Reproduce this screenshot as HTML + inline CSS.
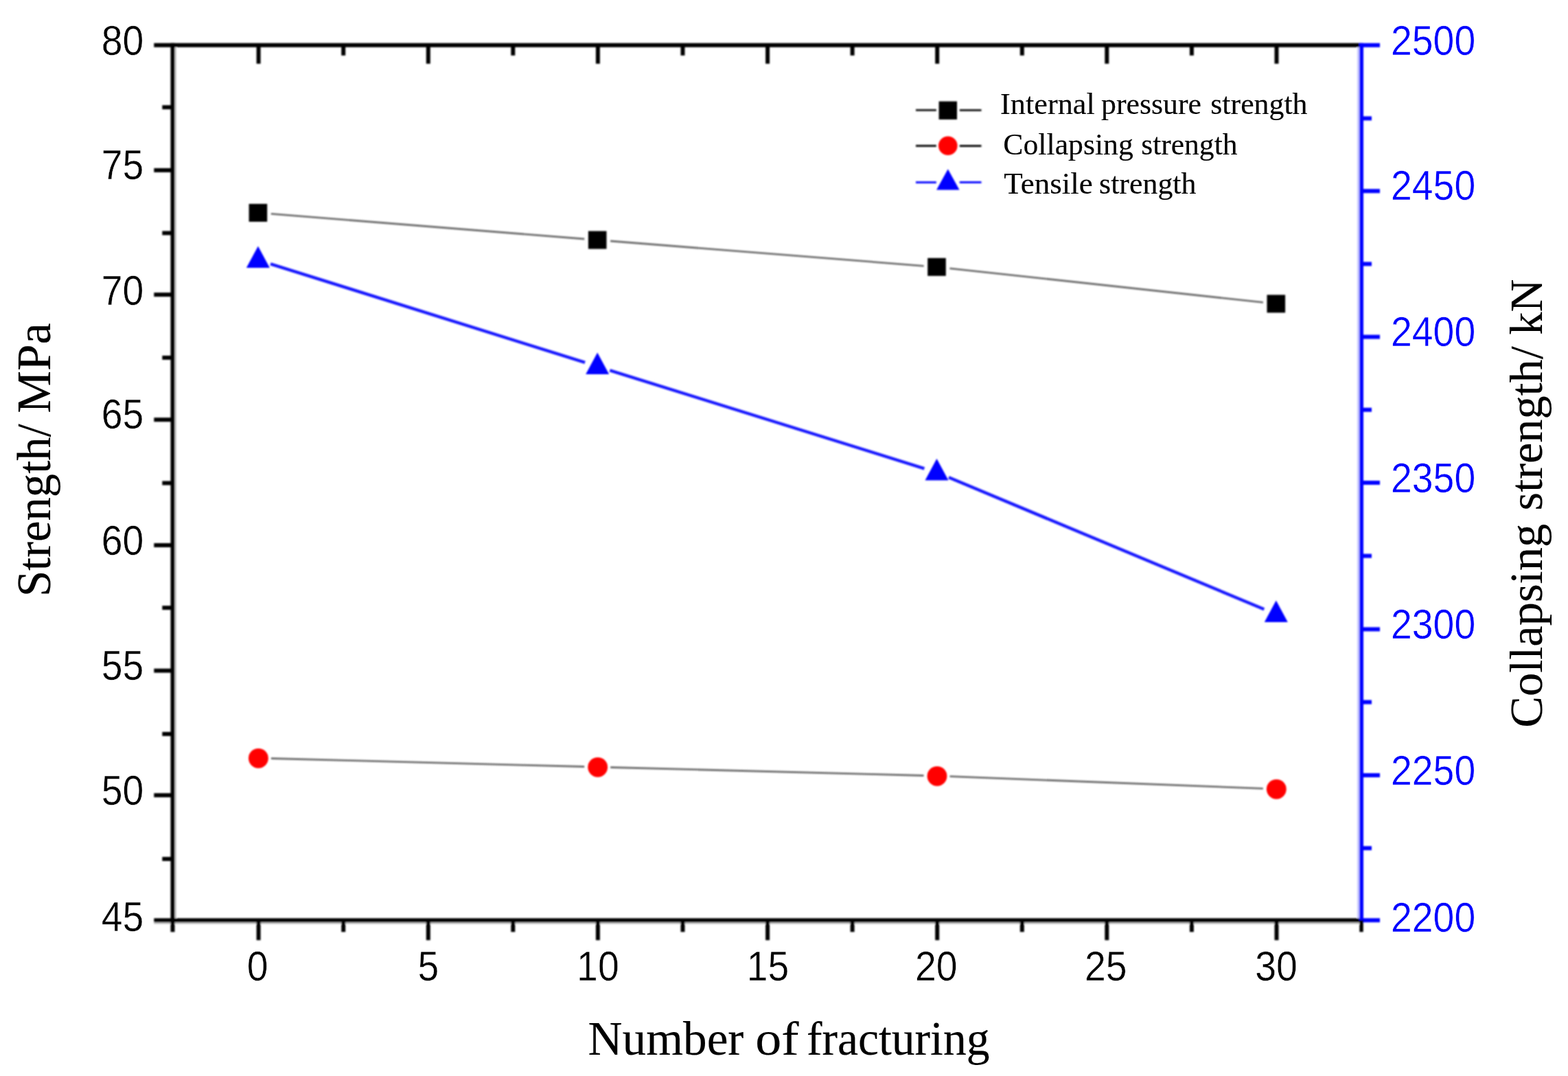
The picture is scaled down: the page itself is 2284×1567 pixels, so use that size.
<!DOCTYPE html>
<html lang="en"><head><meta charset="utf-8"><title>Strength vs number of fracturing</title>
<style>html,body{margin:0;padding:0;background:#fff;}body{width:2284px;height:1567px;overflow:hidden;}svg{display:block;}text{white-space:pre;}.sans{font-family:"Liberation Sans",Arial,sans-serif;}.serif{font-family:"Liberation Serif","Times New Roman",serif;}</style></head><body>
<svg width="2284" height="1567" viewBox="0 0 2284 1567">
<rect width="2284" height="1567" fill="#fff"/>
<defs><filter id="b" x="-5%" y="-5%" width="110%" height="110%"><feGaussianBlur stdDeviation="0.9"/></filter><filter id="b2" x="-5%" y="-5%" width="110%" height="110%"><feGaussianBlur stdDeviation="0.45"/></filter></defs>
<g filter="url(#b)">
<g stroke="#000" stroke-width="6" fill="none" stroke-linecap="butt">
<line x1="255.70000000000002" y1="68.8" x2="255.70000000000002" y2="1337.2" stroke="#c6c6c6" stroke-width="2.4"/>
<line x1="224.3" y1="1344.4" x2="1980.0" y2="1344.4" stroke="#c6c6c6" stroke-width="2.6"/>
<line x1="251.5" y1="62.8" x2="251.5" y2="1357.2"/>
<line x1="224.3" y1="65.8" x2="1983.0" y2="65.8"/>
<line x1="224.3" y1="1340.2" x2="1983.0" y2="1340.2"/>
<line x1="236.3" y1="1250.9" x2="251.8" y2="1250.9"/>
<line x1="224.3" y1="1158.1" x2="251.8" y2="1158.1"/>
<line x1="236.3" y1="1068.9" x2="251.8" y2="1068.9"/>
<line x1="224.3" y1="976.7" x2="251.8" y2="976.7"/>
<line x1="236.3" y1="885.1" x2="251.8" y2="885.1"/>
<line x1="224.3" y1="794.0" x2="251.8" y2="794.0"/>
<line x1="236.3" y1="703.5" x2="251.8" y2="703.5"/>
<line x1="224.3" y1="611.2" x2="251.8" y2="611.2"/>
<line x1="236.3" y1="520.9" x2="251.8" y2="520.9"/>
<line x1="224.3" y1="429.1" x2="251.8" y2="429.1"/>
<line x1="236.3" y1="339.4" x2="251.8" y2="339.4"/>
<line x1="224.3" y1="247.9" x2="251.8" y2="247.9"/>
<line x1="236.3" y1="156.2" x2="251.8" y2="156.2"/>
<line x1="376.6" y1="1340.2" x2="376.6" y2="1369.2"/>
<line x1="376.6" y1="65.8" x2="376.6" y2="92.8"/>
<line x1="500.2" y1="1340.2" x2="500.2" y2="1357.2"/>
<line x1="500.2" y1="65.8" x2="500.2" y2="80.8"/>
<line x1="623.8" y1="1340.2" x2="623.8" y2="1369.2"/>
<line x1="623.8" y1="65.8" x2="623.8" y2="92.8"/>
<line x1="747.3" y1="1340.2" x2="747.3" y2="1357.2"/>
<line x1="747.3" y1="65.8" x2="747.3" y2="80.8"/>
<line x1="870.9" y1="1340.2" x2="870.9" y2="1369.2"/>
<line x1="870.9" y1="65.8" x2="870.9" y2="92.8"/>
<line x1="994.5" y1="1340.2" x2="994.5" y2="1357.2"/>
<line x1="994.5" y1="65.8" x2="994.5" y2="80.8"/>
<line x1="1118.1" y1="1340.2" x2="1118.1" y2="1369.2"/>
<line x1="1118.1" y1="65.8" x2="1118.1" y2="92.8"/>
<line x1="1241.6" y1="1340.2" x2="1241.6" y2="1357.2"/>
<line x1="1241.6" y1="65.8" x2="1241.6" y2="80.8"/>
<line x1="1365.2" y1="1340.2" x2="1365.2" y2="1369.2"/>
<line x1="1365.2" y1="65.8" x2="1365.2" y2="92.8"/>
<line x1="1488.8" y1="1340.2" x2="1488.8" y2="1357.2"/>
<line x1="1488.8" y1="65.8" x2="1488.8" y2="80.8"/>
<line x1="1612.3" y1="1340.2" x2="1612.3" y2="1369.2"/>
<line x1="1612.3" y1="65.8" x2="1612.3" y2="92.8"/>
<line x1="1735.9" y1="1340.2" x2="1735.9" y2="1357.2"/>
<line x1="1735.9" y1="65.8" x2="1735.9" y2="80.8"/>
<line x1="1859.5" y1="1340.2" x2="1859.5" y2="1369.2"/>
<line x1="1859.5" y1="65.8" x2="1859.5" y2="92.8"/>
</g>
<g stroke="#0000ff" stroke-width="6" fill="none">
<line x1="1978.6" y1="68.8" x2="1978.6" y2="1337.2" stroke="#c4c4ff" stroke-width="3"/>
<line x1="1983.0" y1="62.8" x2="1983.0" y2="1343.2"/>
<line x1="1983.0" y1="1340.2" x2="2010.0" y2="1340.2"/>
<line x1="1983.0" y1="1235.2" x2="1998.0" y2="1235.2"/>
<line x1="1983.0" y1="1129.0" x2="2010.0" y2="1129.0"/>
<line x1="1983.0" y1="1022.5" x2="1998.0" y2="1022.5"/>
<line x1="1983.0" y1="916.4" x2="2010.0" y2="916.4"/>
<line x1="1983.0" y1="809.6" x2="1998.0" y2="809.6"/>
<line x1="1983.0" y1="703.0" x2="2010.0" y2="703.0"/>
<line x1="1983.0" y1="596.8" x2="1998.0" y2="596.8"/>
<line x1="1983.0" y1="490.6" x2="2010.0" y2="490.6"/>
<line x1="1983.0" y1="384.4" x2="1998.0" y2="384.4"/>
<line x1="1983.0" y1="278.2" x2="2010.0" y2="278.2"/>
<line x1="1983.0" y1="172.4" x2="1998.0" y2="172.4"/>
<line x1="1983.0" y1="65.8" x2="2010.0" y2="65.8"/>
</g>
<line x1="1983.0" y1="1340.2" x2="1983.0" y2="1357.2" stroke="#000" stroke-width="5.5"/>
<line x1="394.8" y1="311.4" x2="851.3" y2="348.0" stroke="#707070" stroke-width="2.8"/>
<line x1="889.1" y1="351.0" x2="1345.6" y2="387.3" stroke="#707070" stroke-width="2.8"/>
<line x1="1383.4" y1="390.8" x2="1839.9" y2="440.4" stroke="#707070" stroke-width="2.8"/>
<line x1="394.9" y1="1104.5" x2="851.2" y2="1116.5" stroke="#707070" stroke-width="2.8"/>
<line x1="889.2" y1="1117.5" x2="1345.5" y2="1129.5" stroke="#707070" stroke-width="2.8"/>
<line x1="1383.5" y1="1130.7" x2="1839.8" y2="1148.3" stroke="#707070" stroke-width="2.8"/>
<line x1="394.0" y1="384.3" x2="852.1" y2="527.9" stroke="#1414ff" stroke-width="4.4"/>
<line x1="888.3" y1="539.3" x2="1346.4" y2="682.3" stroke="#1414ff" stroke-width="4.4"/>
<line x1="1382.0" y1="695.3" x2="1841.3" y2="887.3" stroke="#1414ff" stroke-width="4.4"/>
<rect x="362.6" y="296.9" width="26.6" height="26" fill="#000"/>
<rect x="856.9" y="336.5" width="26.6" height="26" fill="#000"/>
<rect x="1351.2" y="375.8" width="26.6" height="26" fill="#000"/>
<rect x="1845.5" y="429.4" width="26.6" height="26" fill="#000"/>
<circle cx="376.4" cy="1104.3" r="14.4" fill="#ff0000"/>
<circle cx="870.7" cy="1117.3" r="14.4" fill="#ff0000"/>
<circle cx="1365.0" cy="1130.3" r="14.4" fill="#ff0000"/>
<circle cx="1859.3" cy="1149.3" r="14.4" fill="#ff0000"/>
<polygon points="375.9,358.6 392.9,390.1 358.9,390.1" fill="#0000ff"/>
<polygon points="870.2,513.6 887.2,545.1 853.2,545.1" fill="#0000ff"/>
<polygon points="1364.5,668.0 1381.5,699.5 1347.5,699.5" fill="#0000ff"/>
<polygon points="1858.8,874.6 1875.8,906.1 1841.8,906.1" fill="#0000ff"/>
</g>
<g class="sans" font-size="60.5" stroke="#fff" stroke-width="0.45" filter="url(#b2)">
<text x="147.7" y="1355.7" textLength="61.6" lengthAdjust="spacingAndGlyphs" fill="#000">45</text>
<text x="147.7" y="1172.1" textLength="61.6" lengthAdjust="spacingAndGlyphs" fill="#000">50</text>
<text x="147.7" y="990.1" textLength="61.6" lengthAdjust="spacingAndGlyphs" fill="#000">55</text>
<text x="147.7" y="808.2" textLength="61.6" lengthAdjust="spacingAndGlyphs" fill="#000">60</text>
<text x="147.7" y="624.1" textLength="61.6" lengthAdjust="spacingAndGlyphs" fill="#000">65</text>
<text x="147.7" y="444.0" textLength="61.6" lengthAdjust="spacingAndGlyphs" fill="#000">70</text>
<text x="147.7" y="261.4" textLength="61.6" lengthAdjust="spacingAndGlyphs" fill="#000">75</text>
<text x="147.7" y="80.3" textLength="61.6" lengthAdjust="spacingAndGlyphs" fill="#000">80</text>
<text x="359.7" y="1428.3" textLength="30.8" lengthAdjust="spacingAndGlyphs" fill="#000">0</text>
<text x="608.4" y="1428.3" textLength="30.8" lengthAdjust="spacingAndGlyphs" fill="#000">5</text>
<text x="840.1" y="1428.3" textLength="61.6" lengthAdjust="spacingAndGlyphs" fill="#000">10</text>
<text x="1087.8" y="1428.3" textLength="61.6" lengthAdjust="spacingAndGlyphs" fill="#000">15</text>
<text x="1332.9" y="1428.3" textLength="61.6" lengthAdjust="spacingAndGlyphs" fill="#000">20</text>
<text x="1580.0" y="1428.3" textLength="61.6" lengthAdjust="spacingAndGlyphs" fill="#000">25</text>
<text x="1828.2" y="1428.3" textLength="61.6" lengthAdjust="spacingAndGlyphs" fill="#000">30</text>
<text x="2026.0" y="1356.9" textLength="123.2" lengthAdjust="spacingAndGlyphs" fill="#0000ff">2200</text>
<text x="2026.0" y="1143.1" textLength="123.2" lengthAdjust="spacingAndGlyphs" fill="#0000ff">2250</text>
<text x="2026.0" y="929.9" textLength="123.2" lengthAdjust="spacingAndGlyphs" fill="#0000ff">2300</text>
<text x="2026.0" y="716.6" textLength="123.2" lengthAdjust="spacingAndGlyphs" fill="#0000ff">2350</text>
<text x="2026.0" y="504.1" textLength="123.2" lengthAdjust="spacingAndGlyphs" fill="#0000ff">2400</text>
<text x="2026.0" y="291.1" textLength="123.2" lengthAdjust="spacingAndGlyphs" fill="#0000ff">2450</text>
<text x="2026.0" y="80.3" textLength="123.2" lengthAdjust="spacingAndGlyphs" fill="#0000ff">2500</text>
</g>
<g filter="url(#b)">
<line x1="1334" y1="160.4" x2="1363.8" y2="160.4" stroke="#222" stroke-width="3"/>
<line x1="1397.8" y1="160.4" x2="1429.5" y2="160.4" stroke="#222" stroke-width="3"/>
<line x1="1334" y1="212.4" x2="1363.8" y2="212.4" stroke="#111" stroke-width="3"/>
<line x1="1397.8" y1="212.4" x2="1429.5" y2="212.4" stroke="#111" stroke-width="3"/>
<line x1="1334" y1="265.6" x2="1363.8" y2="265.6" stroke="#1010ff" stroke-width="3"/>
<line x1="1397.8" y1="265.6" x2="1429.5" y2="265.6" stroke="#1010ff" stroke-width="3"/>
<rect x="1367.6" y="147.60000000000002" width="26.4" height="26.4" fill="#000"/>
<circle cx="1380.8" cy="212.3" r="13.8" fill="#ff0000"/>
<polygon points="1380.8,246.3 1397.5,276.6 1364.1,276.6" fill="#0000ff"/>
</g>
<g class="serif" font-size="44" fill="#000" stroke="#000" stroke-width="0.15">
<text transform="translate(0,166)"><tspan x="1457.1" textLength="137.6" lengthAdjust="spacingAndGlyphs">Internal</tspan> <tspan x="1604" textLength="146.07" lengthAdjust="spacingAndGlyphs">pressure</tspan> <tspan x="1763.3" textLength="141.26" lengthAdjust="spacingAndGlyphs">strength</tspan></text>
<text transform="translate(0,225.4)"><tspan x="1461.3" textLength="189.55" lengthAdjust="spacingAndGlyphs">Collapsing</tspan> <tspan x="1662.2" textLength="140.36" lengthAdjust="spacingAndGlyphs">strength</tspan></text>
<text transform="translate(0,281.6)"><tspan x="1462.3" textLength="129.45" lengthAdjust="spacingAndGlyphs">Tensile</tspan> <tspan x="1601.1" textLength="141.36" lengthAdjust="spacingAndGlyphs">strength</tspan></text>
</g>
<g class="serif" fill="#000" stroke="#000" stroke-width="0.15">
<text transform="translate(0,1535.8)" font-size="69.5"><tspan x="856.6" textLength="226.83" lengthAdjust="spacingAndGlyphs">Number</tspan> <tspan x="1100.3" textLength="63.34" lengthAdjust="spacingAndGlyphs">of</tspan> <tspan x="1174.9" textLength="266.65" lengthAdjust="spacingAndGlyphs">fracturing</tspan></text>
<text transform="translate(72.9,0) rotate(-90)" font-size="69.5"><tspan x="-869.1" textLength="251.8" lengthAdjust="spacingAndGlyphs">Strength/</tspan> <tspan x="-601.7" textLength="131.19" lengthAdjust="spacingAndGlyphs">MPa</tspan></text>
<text transform="translate(2246.1,0) rotate(-90)" font-size="68.5"><tspan x="-1059.8" textLength="296.97" lengthAdjust="spacingAndGlyphs">Collapsing</tspan> <tspan x="-743.4" textLength="239.04" lengthAdjust="spacingAndGlyphs">strength/</tspan> <tspan x="-487.7" textLength="81.13" lengthAdjust="spacingAndGlyphs">kN</tspan></text>
</g>
</svg></body></html>
